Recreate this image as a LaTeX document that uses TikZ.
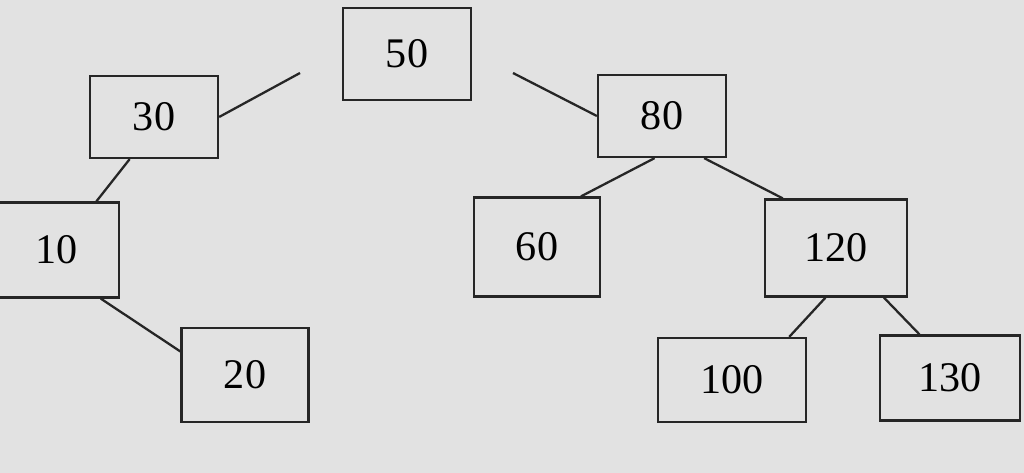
\documentclass[tikz,border=0pt]{standalone}
\usepackage{fontspec}
\setmainfont{Liberation Serif}
\definecolor{paper}{RGB}{226,226,226}
\definecolor{ink}{RGB}{38,38,38}
\tikzset{
  key/.style={draw=ink, line width=1.3pt, inner sep=0pt,
    font=\fontsize{24}{28}\selectfont},
  link/.style={draw=ink, line width=1.3pt}
}
\begin{document}
\begin{tikzpicture}[x=0.02cm,y=-0.02cm]
      \fill[paper] (0,0) rectangle (1024,473);
      \useasboundingbox (0,0) rectangle (1024,473);
      \draw
        (407,54) node[key, minimum width=2.56cm, minimum height=1.84cm] (n50){50}
        (154,117) node[key, minimum width=2.56cm, minimum height=1.64cm] (n30){30}
        (662,116) node[key, minimum width=2.56cm, minimum height=1.64cm] (n80){80}
        (57,250) node[key, minimum width=2.48cm, minimum height=1.90cm] (n10){10}
        (537,247) node[key, minimum width=2.52cm, minimum height=1.98cm] (n60){60}
        (836,248) node[key, minimum width=2.84cm, minimum height=1.94cm] (n120){120}
        (245,375) node[key, minimum width=2.54cm, minimum height=1.88cm] (n20){20}
        (732,380) node[key, minimum width=2.96cm, minimum height=1.68cm] (n100){100}
        (950,378) node[key, minimum width=2.80cm, minimum height=1.70cm] (n130){130};
      \coordinate (e50a) at (300,73);
      \coordinate (e50b) at (513,73);
      \begin{scope}[link]
        \draw (e50a) to (n30.east);
        \draw (e50b) to (n80.west);
        \draw (n30.-120) to (n10.51);
        \draw (n10.-48) to (n20.160);
        \draw (n80.-100) to (n60.49);
        \draw (n80.-45) to (n120.137);
        \draw (n120.-102) to (n100.37);
        \draw (n120.-46) to (n130.125);
      \end{scope}
    \end{tikzpicture}
\end{document}
